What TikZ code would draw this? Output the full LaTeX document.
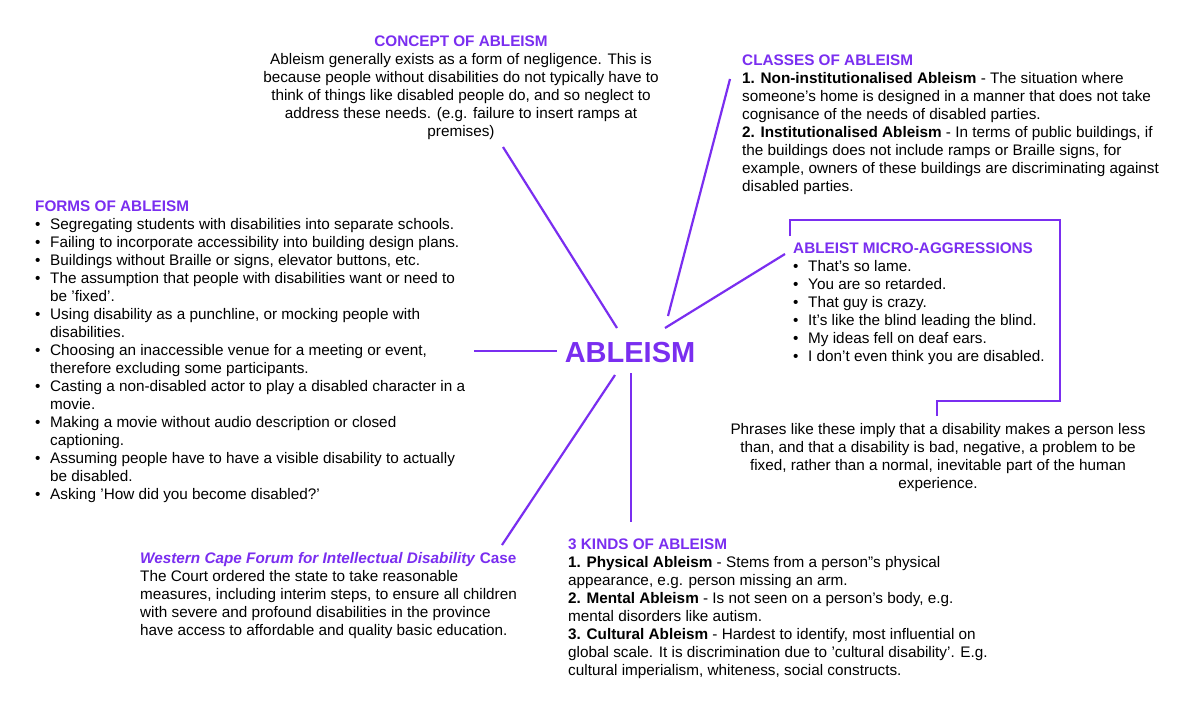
\documentclass[tikz,border=0pt]{standalone}
\usepackage{fontspec}
\setmainfont{Liberation Sans}
\definecolor{pur}{HTML}{7A2EF0}
\newcommand{\bl}{\makebox[15pt][l]{•}}
\newcommand{\ct}{\hspace*{15pt}}
\begin{document}
\begin{tikzpicture}[x=1pt,y=-1pt,
  txt/.style={inner sep=0pt,anchor=north west,align=left,font=\fontsize{15.3}{18}\selectfont},
  ctxt/.style={inner sep=0pt,anchor=north,align=center,font=\fontsize{15.3}{18}\selectfont},
  conn/.style={draw=pur,line width=2.2pt}]
\useasboundingbox[fill=white] (0,0) rectangle (1200,715);
\node[ctxt] (concept) at (461,36) {\textcolor{pur}{\textbf{CONCEPT OF ABLEISM}}\\Ableism generally exists as a form of negligence. This is\\because people without disabilities do not typically have to\\think of things like disabled people do, and so neglect to\\address these needs. (e.g. failure to insert ramps at\\premises)};
\node[txt] (classes) at (742,55) {\textcolor{pur}{\textbf{CLASSES OF ABLEISM}}\\\textbf{1. Non-institutionalised Ableism} - The situation where\\someone's home is designed in a manner that does not take\\cognisance of the needs of disabled parties.\\\textbf{2. Institutionalised Ableism} - In terms of public buildings, if\\the buildings does not include ramps or Braille signs, for\\example, owners of these buildings are discriminating against\\disabled parties.};
\node[txt] (forms) at (35,201) {\textcolor{pur}{\textbf{FORMS OF ABLEISM}}\\
\bl Segregating students with disabilities into separate schools.\\
\bl Failing to incorporate accessibility into building design plans.\\
\bl Buildings without Braille or signs, elevator buttons, etc.\\
\bl The assumption that people with disabilities want or need to\\
\ct be 'fixed'.\\
\bl Using disability as a punchline, or mocking people with\\
\ct disabilities.\\
\bl Choosing an inaccessible venue for a meeting or event,\\
\ct therefore excluding some participants.\\
\bl Casting a non-disabled actor to play a disabled character in a\\
\ct movie.\\
\bl Making a movie without audio description or closed\\
\ct captioning.\\
\bl Assuming people have to have a visible disability to actually\\
\ct be disabled.\\
\bl Asking 'How did you become disabled?'};
\node[inner sep=0pt,text=pur,font=\bfseries\fontsize{29}{32}\selectfont] (ab) at (630,353) {ABLEISM};
\node[txt] (micro) at (793,243) {\textcolor{pur}{\textbf{ABLEIST MICRO-AGGRESSIONS}}\\
\bl That's so lame.\\
\bl You are so retarded.\\
\bl That guy is crazy.\\
\bl It's like the blind leading the blind.\\
\bl My ideas fell on deaf ears.\\
\bl I don't even think you are disabled.};
\node[ctxt] (phr) at (938,423) {Phrases like these imply that a disability makes a person less\\than, and that a disability is bad, negative, a problem to be\\fixed, rather than a normal, inevitable part of the human\\experience.};
\node[txt] (wc) at (140,552) {\textcolor{pur}{\textbf{\textit{Western Cape Forum for Intellectual Disability}\ Case}}\\The Court ordered the state to take reasonable\\measures, including interim steps, to ensure all children\\with severe and profound disabilities in the province\\have access to affordable and quality basic education.};
\node[txt] (kinds) at (568,539) {\textcolor{pur}{\textbf{3 KINDS OF ABLEISM}}\\\textbf{1. Physical Ableism} - Stems from a person"s physical\\appearance, e.g. person missing an arm.\\\textbf{2. Mental Ableism} -  Is not seen on a person's body, e.g.\\mental disorders like autism.\\\textbf{3. Cultural Ableism} - Hardest to identify, most influential on\\global scale. It is discrimination due to 'cultural disability'. E.g.\\cultural imperialism, whiteness, social constructs.};
\coordinate (c1) at (503,147); \coordinate (c2) at (617,328);
\coordinate (k1) at (730,79); \coordinate (k2) at (668,316);
\coordinate (m1) at (785,254); \coordinate (m2) at (665,328);
\coordinate (f1) at (474,351); \coordinate (f2) at (557,351);
\coordinate (w1) at (615,375); \coordinate (w2) at (502,545);
\coordinate (d1) at (631,373); \coordinate (d2) at (631,522);
\draw[conn] (c1)--(c2);
\draw[conn] (k1)--(k2);
\draw[conn] (m1)--(m2);
\draw[conn] (f1)--(f2);
\draw[conn] (w1)--(w2);
\draw[conn] (d1)--(d2);
\coordinate (b1) at (790,236); \coordinate (b2) at (937,416);
\draw[conn] (b1)--(790,220)--(1060,220)--(1060,401)--(937,401)--(b2);
\end{tikzpicture}
\end{document}
